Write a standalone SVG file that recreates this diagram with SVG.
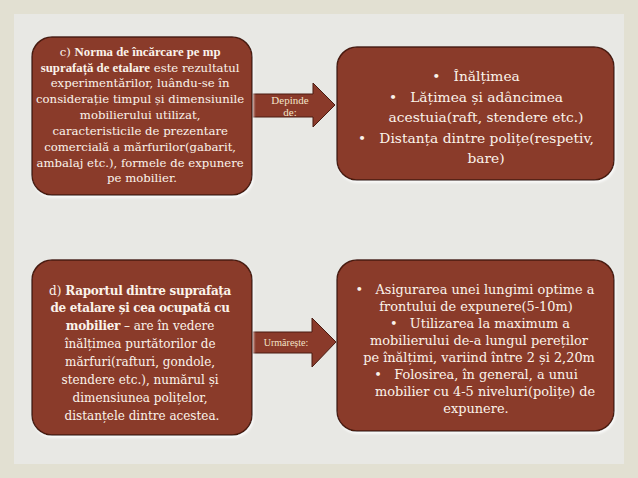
<svg xmlns="http://www.w3.org/2000/svg" width="638" height="478" viewBox="0 0 638 478">
<style>
.box{fill:#8a3a2a;stroke:#4a1b10;stroke-width:1.5}
.arr{fill:#8a3a2a;stroke:#4a1b10;stroke-width:1}
text, tspan{font-family:"DejaVu Serif","Liberation Serif",serif}
.t{fill:#fbf3ea;text-anchor:middle}
.s1{font-size:11.7px}
.s2{font-size:13.8px}
.s3{font-size:12px}
.s4{font-size:12.9px}
.lab{font-size:10px;fill:#f3e3c8}
.b{font-weight:bold}
.s1 .b{font-family:"Liberation Serif",serif;font-size:12.8px}
.s3 .b{letter-spacing:-0.3px}
</style>
<defs>
<filter id="sh" x="-10%" y="-10%" width="120%" height="120%">
<feDropShadow dx="1" dy="2" stdDeviation="1.2" flood-color="#ffffff" flood-opacity="0.8"/>
</filter>
</defs>
<rect x="0" y="0" width="638" height="478" fill="#e2e0d2"/>
<rect x="14" y="14" width="610" height="450" fill="#e8e8e4"/>

<g id="connectors">
<g id="arrow1">
<path class="arr" d="M252,94 L313,94 L313,83 L335,105 L313,127 L313,117 L252,117 Z"/>
<text class="t lab" style="font-family:'Liberation Serif',serif;font-size:11px" x="290" y="104">Depinde</text>
<text class="t lab" style="font-family:'Liberation Serif',serif;font-size:11px" x="290" y="116">de:</text>
</g>
<g id="arrow2">
<path class="arr" d="M252,332 L312,332 L312,318 L336,342 L312,367 L312,353 L252,353 Z"/>
<text class="t lab" style="font-family:'Liberation Serif',serif" x="286" y="346">Urmărește:</text>
</g>
</g>

<g id="node-c">
<rect class="box" filter="url(#sh)" x="32" y="37" width="220" height="158" rx="20"/>
<text class="t s1">
<tspan x="142" y="56">c) <tspan class="b">Norma de încărcare pe mp</tspan></tspan>
<tspan x="142" y="72"><tspan class="b">suprafață de etalare</tspan> este rezultatul</tspan>
<tspan x="142" y="87">experimentărilor, luându-se în</tspan>
<tspan x="142" y="103">considerație timpul și dimensiunile</tspan>
<tspan x="142" y="119">mobilierului utilizat,</tspan>
<tspan x="142" y="135">caracteristicile de prezentare</tspan>
<tspan x="142" y="151">comercială a mărfurilor(gabarit,</tspan>
<tspan x="142" y="167">ambalaj etc.), formele de expunere</tspan>
<tspan x="142" y="182">pe mobilier.</tspan>
</text>
</g>

<g id="node-depinde">
<rect class="box" filter="url(#sh)" x="337" y="47" width="277" height="133" rx="20"/>
<text class="t s2" xml:space="preserve"><tspan x="476" y="81">•   Înălțimea</tspan><tspan x="476" y="102">•   Lățimea și adâncimea</tspan><tspan x="486" y="122">acestuia(raft, stendere etc.)</tspan><tspan x="476" y="143">•   Distanța dintre polițe(respetiv,</tspan><tspan x="486" y="163">bare)</tspan></text>
</g>

<g id="node-d">
<rect class="box" filter="url(#sh)" x="32" y="260" width="220" height="175" rx="20"/>
<text class="t s3">
<tspan x="142" y="295">d) <tspan class="b">Raportul dintre suprafața</tspan></tspan>
<tspan x="142" y="312" class="b">de etalare și cea ocupată cu</tspan>
<tspan x="142" y="330"><tspan class="b">mobilier</tspan> – are în vedere</tspan>
<tspan x="142" y="348">înălțimea purtătorilor de</tspan>
<tspan x="142" y="366">mărfuri(rafturi, gondole,</tspan>
<tspan x="142" y="384">stendere etc.), numărul și</tspan>
<tspan x="142" y="402">dimensiunea polițelor,</tspan>
<tspan x="142" y="420">distanțele dintre acestea.</tspan>
</text>
</g>

<g id="node-urmareste">
<rect class="box" filter="url(#sh)" x="337" y="260" width="277" height="171" rx="20"/>
<text class="t s4" xml:space="preserve"><tspan x="475" y="294">•   Asigurarea unei lungimi optime a</tspan><tspan x="476" y="311">frontului de expunere(5-10m)</tspan><tspan x="480" y="328">•   Utilizarea la maximum a</tspan><tspan x="479" y="345">mobilierului de-a lungul pereților</tspan><tspan x="479" y="362">pe înălțimi, variind între 2 și 2,20m</tspan><tspan x="476" y="379">•   Folosirea, în general, a unui</tspan><tspan x="485" y="396">mobilier cu 4-5 niveluri(polițe) de</tspan><tspan x="476" y="413">expunere.</tspan></text>
</g>
</svg>
